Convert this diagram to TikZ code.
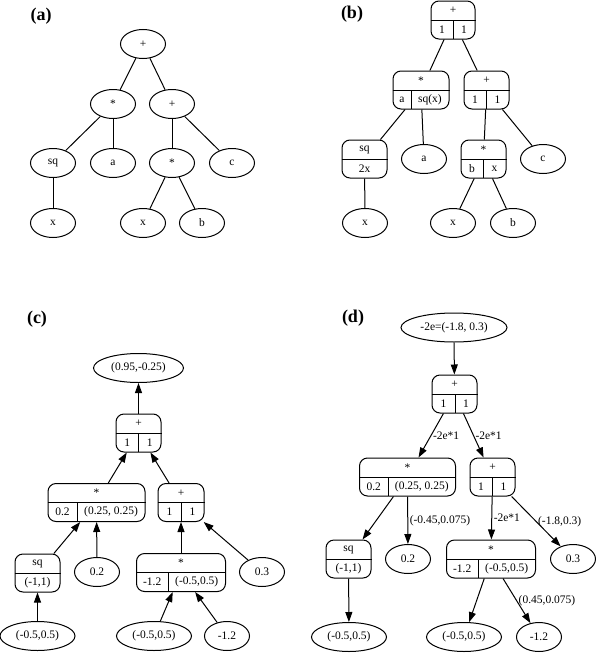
\documentclass[tikz,border=0pt]{standalone}
\usepackage{fontspec}
\setmainfont{Liberation Serif}
\usetikzlibrary{shapes.geometric, arrows.meta}

\newcommand{\recnode}[8]{%
  \node[rec, minimum width=#4] (#1) at (#2,#3) {};
  \draw (#1.west) -- (#1.east);
  \draw (#5,#3) -- (#5,#3+19);
  \node[txt] (#1-t) at (#2,#3-9.5) {#6};
  \node[txt] (#1-l) at ({(#2-#4/2+#5)/2},#3+9.5) {#7};
  \node[txt] (#1-r) at ({(#2+#4/2+#5)/2},#3+9.5) {#8};
}
\newcommand{\recsingle}[6]{%
  \node[rec, minimum width=#4] (#1) at (#2,#3) {};
  \draw (#1.west) -- (#1.east);
  \node[txt] (#1-t) at (#2,#3-9.5) {#5};
  \node[txt] (#1-b) at (#2,#3+9.5) {#6};
}

\begin{document}
\begin{tikzpicture}[
		x=1pt, y=-1pt,
		line width=1pt,
		every node/.style={font=\fontsize{11.5}{12}\selectfont},
		ell/.style={ellipse, draw, minimum width=45, minimum height=29, inner sep=0pt},
		rec/.style={rectangle, draw, rounded corners=8pt, minimum height=38, inner sep=0pt},
		txt/.style={inner sep=0pt},
		panel/.style={font=\fontsize{18}{20}\selectfont\bfseries},
		lab/.style={midway, right, inner sep=1.5pt},
		arr/.style={-{Triangle[length=10pt, width=7pt]}}
	]
  \useasboundingbox (0,0) rectangle (596,653);

  \node (pa) [panel] at (41,16) {(a)};
  \node (aroot) [ell] at (143,44) {+};
  \node (amul) [ell] at (113,104) {*};
  \node (aplus) [ell] at (172,104) {+};
  \node (asq) [ell] at (53,163) {sq};
  \node (aa) [ell] at (113,163) {a};
  \node (amul2) [ell] at (172,163) {*};
  \node (ac) [ell] at (232,163) {c};
  \node (ax) [ell] at (53,223) {x};
  \node (ax2) [ell] at (143,223) {x};
  \node (ab) [ell] at (202,223) {b};
  \draw (aroot) -- (amul);
  \draw (aroot) -- (aplus);
  \draw (amul) -- (asq);
  \draw (amul) -- (aa);
  \draw (aplus) -- (amul2);
  \draw (aplus) -- (ac);
  \draw (asq) -- (ax);
  \draw (amul2) -- (ax2);
  \draw (amul2) -- (ab);

  \node (pb) [panel] at (352,14) {(b)};
  \recnode{broot}{453}{20}{44}{453}{+}{1}{1}
  \recnode{bmul}{421}{90}{56}{411}{*}{a}{sq(x)}
  \recnode{bplus}{486.5}{90}{45}{486}{+}{1}{1}
  \recsingle{bsq}{364.5}{159}{45}{sq}{2x}
  \recnode{bmul2}{483.5}{159}{45}{483}{*}{b}{x}
  \node (ba) [ell] at (424,159) {a};
  \node (bc) [ell] at (543,159) {c};
  \node (bx) [ell] at (365,223) {x};
  \node (bx2) [ell] at (453,223) {x};
  \node (bb) [ell] at (513,223) {b};
  \draw (broot) -- (bmul);
  \draw (broot) -- (bplus);
  \draw (bmul) -- (bsq);
  \draw (bmul) -- (ba);
  \draw (bplus) -- (bmul2);
  \draw (bplus) -- (bc);
  \draw (bsq) -- (bx);
  \draw (bmul2) -- (bx2);
  \draw (bmul2) -- (bb);

  \node (pc) [panel] at (37,319) {(c)};
  \node (croot) [ell, minimum width=90] at (138.5,368) {(0.95,-0.25)};
  \recnode{cplus}{138.5}{433}{45}{138.5}{+}{1}{1}
  \recnode{cmul}{96.5}{502.5}{97}{77}{*}{0.2}{(0.25, 0.25)}
  \recnode{cplus2}{181}{502.5}{46}{181}{+}{1}{1}
  \recsingle{csq}{37.5}{573}{45}{sq}{(-1,1)}
  \recnode{cmul2}{181}{572.5}{89}{168}{*}{-1.2}{(-0.5,0.5)}
  \node (c02) [ell] at (97,572) {0.2};
  \node (c03) [ell] at (262,572) {0.3};
  \node (cv1) [ell, minimum width=75] at (37.5,636) {(-0.5,0.5)};
  \node (cv2) [ell, minimum width=75] at (154,636) {(-0.5,0.5)};
  \node (cn) [ell] at (227,636) {-1.2};
  \draw[arr] (cplus) -- (croot);
  \draw[arr] (cmul) -- (cplus);
  \draw[arr] (cplus2) -- (cplus);
  \draw[arr] (csq) -- (cmul);
  \draw[arr] (c02) -- (cmul);
  \draw[arr] (cmul2) -- (cplus2);
  \draw[arr] (c03) -- (cplus2);
  \draw[arr] (cv1) -- (csq);
  \draw[arr] (cv2) -- (cmul2);
  \draw[arr] (cn) -- (cmul2);

  \node (pd) [panel] at (353,318) {(d)};
  \node (droot) [ell, minimum width=106] at (454,327.5) {-2e=(-1.8, 0.3)};
  \recnode{dplus}{454.5}{394}{45}{455}{+}{1}{1}
  \recnode{dmul}{407.5}{477}{96}{388}{*}{0.2}{(0.25, 0.25)}
  \recnode{dplus2}{492.5}{477}{45}{492}{+}{1}{1}
  \recsingle{dsq}{348.5}{559}{45}{sq}{(-1,1)}
  \recnode{dmul2}{491}{559}{89}{478}{*}{-1.2}{(-0.5,0.5)}
  \node (d02) [ell] at (408,559) {0.2};
  \node (d03) [ell] at (573,559) {0.3};
  \node (dv1) [ell, minimum width=75] at (349,637) {(-0.5,0.5)};
  \node (dv2) [ell, minimum width=75] at (464,637) {(-0.5,0.5)};
  \node (dn) [ell] at (539,637) {-1.2};
  \draw[arr] (droot) -- (dplus);
  \draw[arr] (dplus) -- node (l1) [lab] {-2e*1} (dmul);
  \draw[arr] (dplus) -- node (l2) [lab] {-2e*1} (dplus2);
  \draw[arr] (dmul) -- (dsq);
  \draw[arr] (dmul) -- node (l3) [lab] {(-0.45,0.075)} (d02);
  \draw[arr] (dplus2) -- node (l4) [lab] {-2e*1} (dmul2);
  \draw[arr] (dplus2) -- node (l5) [lab] {(-1.8,0.3)} (d03);
  \draw[arr] (dsq) -- (dv1);
  \draw[arr] (dmul2) -- (dv2);
  \draw[arr] (dmul2) -- node (l6) [lab] {(0.45,0.075)} (dn);
\end{tikzpicture}
\end{document}
